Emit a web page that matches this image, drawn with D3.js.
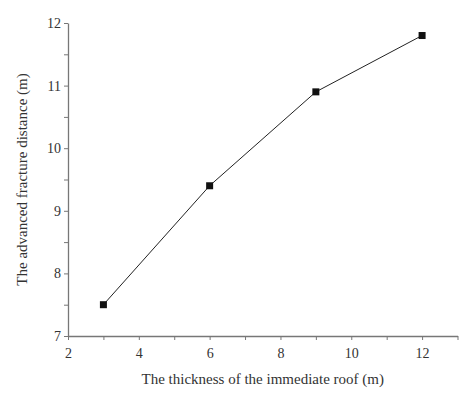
<!DOCTYPE html>
<html><head><meta charset="utf-8">
<script src="https://cdn.jsdelivr.net/npm/d3@7"></script>
<style>body{margin:0;background:#fff}text{font-family:"Liberation Serif",serif}</style>
</head><body>
<script>
const thickness = [3, 6, 9, 12];
const distance = [7.5, 9.4, 10.9, 11.8];
const xTicks = [2, 4, 6, 8, 10, 12];
const yTicks = [7, 8, 9, 10, 11, 12];

const W = 474, H = 402;
const svg = d3.select("body").append("svg").attr("width", W).attr("height", H);
const x = d3.scaleLinear().domain([2, 13]).range([68, 457.5]);
const y = d3.scaleLinear().domain([7, 12]).range([336, 23]);
const axisColor = "#777";

const gx = svg.append("g").attr("transform", "translate(0,336)")
  .call(d3.axisBottom(x).tickValues(d3.range(2, 13.01, 1)).tickSize(4).tickSizeOuter(0)
    .tickFormat(d => xTicks.includes(d) ? d : ""));
const gy = svg.append("g").attr("transform", "translate(68,0)")
  .call(d3.axisLeft(y).tickValues(d3.range(7, 12.01, 0.5)).tickSize(4).tickSizeOuter(0)
    .tickFormat(d => yTicks.includes(d) ? d : ""));
[gx, gy].forEach(g => {
  g.select(".domain").attr("stroke", axisColor).attr("stroke-width", 1.3);
  g.selectAll(".tick line").attr("stroke", axisColor);
  g.selectAll(".tick text").attr("fill", "#333").style("font-size", "14px");
});
gx.selectAll(".tick text").attr("dy", "1.1em");

svg.append("path")
  .datum(thickness.map((t, i) => [t, distance[i]]))
  .attr("fill", "none").attr("stroke", "#222").attr("stroke-width", 1)
  .attr("d", d3.line().x(d => x(d[0])).y(d => y(d[1])));

svg.selectAll("rect.pt").data(thickness).enter().append("rect")
  .attr("class", "pt")
  .attr("x", (d) => x(d) - 3.5).attr("y", (d, i) => y(distance[i]) - 3.5)
  .attr("width", 7).attr("height", 7).attr("fill", "#111");

svg.append("text").attr("x", x(7.5) + 0).attr("y", 384)
  .attr("text-anchor", "middle").attr("fill", "#333").style("font-size", "15px")
  .text("The thickness of the immediate roof (m)");
svg.append("text").attr("transform", "translate(27," + y(9.5) + ") rotate(-90)")
  .attr("text-anchor", "middle").attr("fill", "#333").style("font-size", "15px")
  .text("The advanced fracture distance (m)");
</script>
</body></html>
